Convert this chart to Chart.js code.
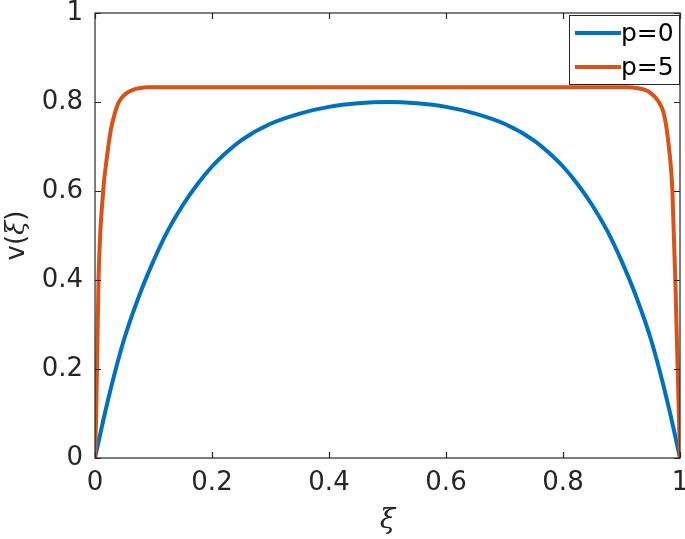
<!DOCTYPE html>
<html>
<head>
<meta charset="utf-8">
<script src="https://cdn.jsdelivr.net/npm/chart.js@4.4.1/dist/chart.umd.min.js"></script>
<style>
  html, body { margin: 0; padding: 0; background: #fff; }
  #wrap { width: 685px; height: 539px; }
</style>
</head>
<body>
<div id="wrap"><canvas id="chart" width="685" height="539"></canvas></div>
<script>
/* === DATA === */
const xiTicks = [0, 0.2, 0.4, 0.6, 0.8, 1];
const xiTickLabels = ["0", "0.2", "0.4", "0.6", "0.8", "1"];
const vTicks = [0, 0.2, 0.4, 0.6, 0.8, 1];
const vTickLabels = ["0", "0.2", "0.4", "0.6", "0.8", "1"];
const seriesLabels = ["p=0", "p=5"];
const seriesColors = ["#0072BD", "#D95319"];

// p=0
const xiP0 = [0, 0.01, 0.02, 0.035, 0.05, 0.075, 0.1, 0.125, 0.15, 0.175, 0.2, 0.225, 0.25, 0.3, 0.35, 0.4, 0.45, 0.5,
  0.55, 0.6, 0.65, 0.7, 0.75, 0.775, 0.8, 0.825, 0.85, 0.875, 0.9, 0.925, 0.95, 0.965, 0.98, 0.99, 1];
const vP0 = [0, 0.06, 0.118, 0.197, 0.268, 0.363, 0.443, 0.512, 0.568, 0.615, 0.655, 0.687, 0.714, 0.751, 0.774, 0.789, 0.797, 0.8,
  0.797, 0.789, 0.774, 0.751, 0.714, 0.687, 0.655, 0.615, 0.568, 0.512, 0.443, 0.363, 0.268, 0.197, 0.118, 0.06, 0];

// p=5
const xiP5 = [0, 0.002, 0.004, 0.006, 0.014, 0.019, 0.027, 0.034, 0.04, 0.046, 0.054, 0.066, 0.076, 0.09, 0.5,
  0.91, 0.928, 0.94, 0.95, 0.958, 0.965, 0.971, 0.976, 0.98, 0.984, 0.987, 0.992, 0.995, 0.998, 1];
const vP5 = [0, 0.1, 0.25, 0.4, 0.6, 0.662, 0.737, 0.775, 0.798, 0.81, 0.82, 0.828, 0.831, 0.833, 0.833,
  0.833, 0.831, 0.827, 0.82, 0.81, 0.797, 0.78, 0.75, 0.71, 0.66, 0.6, 0.4, 0.25, 0.1, 0];

const AXIS_COLOR = "#262626";
const SANS = "DejaVu Sans";
const SERIF = "DejaVu Serif";

function toPoints(xs, ys) {
  return xs.map((x, i) => ({ x, y: ys[i] }));
}

/* === box, inward ticks, y title, legend === */
const matlabAxes = {
  id: "matlabAxes",
  afterDatasetsDraw(chart) {
    const { ctx, chartArea: a, scales } = chart;
    const tl = 6;
    ctx.save();
    ctx.strokeStyle = AXIS_COLOR;
    ctx.lineWidth = 1.2;
    ctx.strokeRect(a.left, a.top, a.right - a.left, a.bottom - a.top);

    ctx.beginPath();
    xiTicks.forEach(t => {
      const px = Math.round(scales.x.getPixelForValue(t)) + 0.5;
      ctx.moveTo(px, a.bottom); ctx.lineTo(px, a.bottom - tl);
      ctx.moveTo(px, a.top); ctx.lineTo(px, a.top + tl);
    });
    vTicks.forEach(t => {
      const py = Math.round(scales.y.getPixelForValue(t)) + 0.5;
      ctx.moveTo(a.left, py); ctx.lineTo(a.left + tl, py);
      ctx.moveTo(a.right, py); ctx.lineTo(a.right - tl, py);
    });
    ctx.stroke();

    // y title: v(ξ) with italic ξ
    const parts = [
      { t: "v(", f: `26px "${SANS}"` },
      { t: "ξ", f: `italic 26px "${SERIF}"` },
      { t: ")", f: `26px "${SANS}"` }
    ];
    let total = 0;
    parts.forEach(p => { ctx.font = p.f; p.w = ctx.measureText(p.t).width; total += p.w; });
    ctx.translate(17, (a.top + a.bottom) / 2);
    ctx.rotate(-Math.PI / 2);
    ctx.fillStyle = AXIS_COLOR;
    ctx.textBaseline = "middle";
    ctx.textAlign = "left";
    let x = -total / 2;
    parts.forEach(p => { ctx.font = p.f; ctx.fillText(p.t, x, 0); x += p.w; });
    ctx.restore();

    // legend
    ctx.save();
    const bx = a.right - 111, by = a.top + 2, bw = 110, bh = 69;
    ctx.fillStyle = "#fff";
    ctx.fillRect(bx, by, bw, bh);
    ctx.strokeStyle = AXIS_COLOR;
    ctx.lineWidth = 1;
    ctx.strokeRect(bx + 0.5, by + 0.5, bw, bh);
    ctx.font = `25px "${SANS}"`;
    ctx.textBaseline = "middle";
    ctx.fillStyle = "#000";
    chart.data.datasets.forEach((ds, i) => {
      const ly = by + 18 + i * 34;
      ctx.strokeStyle = ds.borderColor;
      ctx.lineWidth = 4;
      ctx.beginPath();
      ctx.moveTo(bx + 6, ly); ctx.lineTo(bx + 52, ly);
      ctx.stroke();
      ctx.fillText(ds.label, bx + 52, ly + 1);
    });
    ctx.restore();
  }
};

const ctx = document.getElementById("chart").getContext("2d");

new Chart(ctx, {
  type: "scatter",
  data: {
    datasets: [
      {
        label: seriesLabels[0],
        data: toPoints(xiP0, vP0),
        borderColor: seriesColors[0],
        order: 1
      },
      {
        label: seriesLabels[1],
        data: toPoints(xiP5, vP5),
        borderColor: seriesColors[1],
        order: 0
      }
    ]
  },
  options: {
    responsive: false,
    animation: false,
    showLine: true,
    layout: { padding: { top: 13, right: 5, left: 0, bottom: 0 } },
    elements: {
      point: { radius: 0, hoverRadius: 0 },
      line: { borderWidth: 4, cubicInterpolationMode: "monotone", fill: false }
    },
    plugins: { legend: { display: false }, tooltip: { enabled: false } },
    scales: {
      x: {
        type: "linear",
        min: 0,
        max: 1,
        grid: { display: false, drawTicks: false },
        border: { display: false },
        afterBuildTicks: s => { s.ticks = xiTicks.map(v => ({ value: v })); },
        afterFit: s => { s.height = 81; s.paddingLeft = 0; s.paddingRight = 0; },
        ticks: {
          autoSkip: false,
          maxRotation: 0,
          padding: 10,
          color: AXIS_COLOR,
          font: { family: SANS, size: 26 },
          callback: (val, i) => xiTickLabels[i]
        },
        title: {
          display: true,
          text: "ξ",
          color: AXIS_COLOR,
          padding: 1,
          font: { family: SERIF, style: "italic", size: 28 }
        }
      },
      y: {
        type: "linear",
        min: 0,
        max: 1,
        grid: { display: false, drawTicks: false },
        border: { display: false },
        afterBuildTicks: s => { s.ticks = vTicks.map(v => ({ value: v })); },
        afterFit: s => { s.width = 95; s.paddingTop = 0; s.paddingBottom = 0; },
        ticks: {
          autoSkip: false,
          padding: 12,
          color: AXIS_COLOR,
          font: { family: SANS, size: 26 },
          callback: (val, i) => vTickLabels[i]
        }
      }
    }
  },
  plugins: [matlabAxes]
});
</script>
</body>
</html>
